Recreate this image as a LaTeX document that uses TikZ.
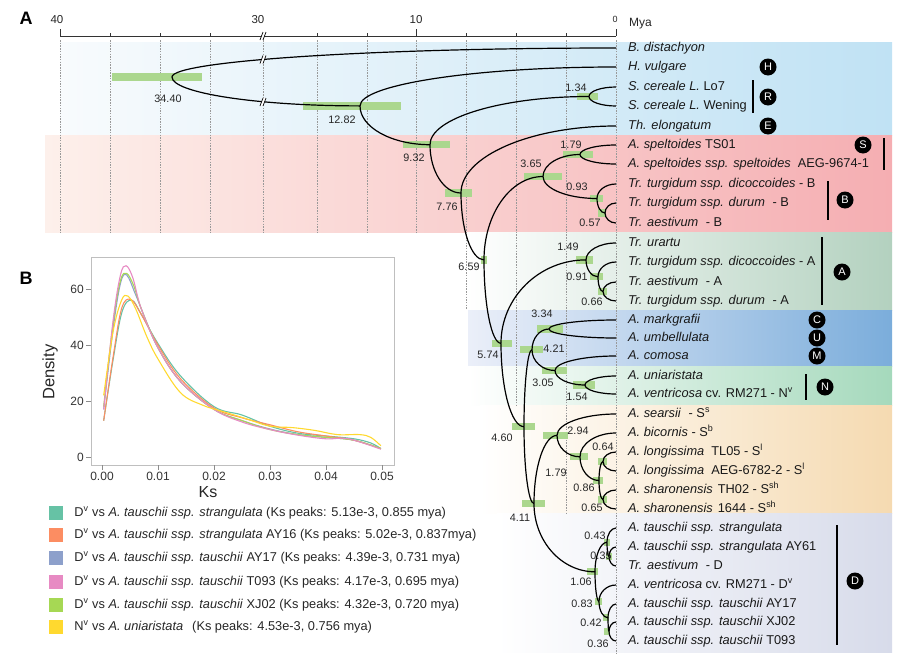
\documentclass[tikz,border=0pt]{standalone}
\usepackage{fontspec}
\setmainfont{Liberation Sans}
\usetikzlibrary{calc,positioning}

\definecolor{bandH}{HTML}{C0E2F4}
\definecolor{bandHl}{HTML}{F8FBFD}
\definecolor{bandS}{HTML}{F5AEB2}
\definecolor{bandSl}{HTML}{FDF0EB}
\definecolor{bandA}{HTML}{B3D1BF}
\definecolor{bandC}{HTML}{7BADDB}
\definecolor{bandCl}{HTML}{EBEFF9}
\definecolor{bandN}{HTML}{A5D9BC}
\definecolor{bandSx}{HTML}{F5DAB1}
\definecolor{bandD}{HTML}{D7DBEA}
\definecolor{hpdgreen}{HTML}{ABD78E}
\definecolor{ksTeal}{HTML}{66C2A5}
\definecolor{ksOrange}{HTML}{FC8D62}
\definecolor{ksBlue}{HTML}{8DA0CB}
\definecolor{ksPink}{HTML}{E78AC3}
\definecolor{ksGreen}{HTML}{A6D854}
\definecolor{ksYellow}{HTML}{FFD92F}

\tikzset{
	branch/.style={line width=1.2pt},
	hpd/.style={fill=hpdgreen},
	gridline/.style={gray!80, line width=.4pt, dash pattern=on 1.5pt off 1.2pt},
	axisline/.style={line width=.6pt, black!80},
	tick/.style={inner sep=1pt, font=\fontsize{11.5}{13}\selectfont, text=black!85},
	taxon/.style={anchor=west, xshift=11pt, inner sep=1pt, text height=1.5ex, text depth=.3ex, font=\fontsize{12.8}{15}\selectfont, text=black!90},
	age/.style={inner sep=.5pt, font=\fontsize{10.8}{12}\selectfont, text=black!85},
	clade/.style={circle, fill=black, text=white, minimum size=17pt, inner sep=0pt, font=\fontsize{11}{12}\selectfont},
	cladebar/.style={line width=1.6pt},
	panel/.style={font=\fontsize{18}{20}\selectfont\bfseries},
	plotframe/.style={draw=black!25, line width=.6pt},
	plotaxis/.style={black!45, line width=.5pt},
	plottick/.style={inner sep=2pt, font=\fontsize{12}{14}\selectfont, text=black!80},
	kscurve/.style={line width=1.1pt},
	swatch/.style={minimum size=14pt, inner sep=0pt},
	legtext/.style={anchor=west, inner sep=0pt, font=\fontsize{12.8}{15}\selectfont, text=black!85},
}

\begin{document}
\begin{tikzpicture}[x=1pt,y=-1pt]
	\useasboundingbox (0,0) rectangle (914,659);

	% BANDS
	\shade[left color=bandHl, right color=bandH] (60,42) rectangle (892,135);
	\shade[left color=bandSl, right color=bandS] (45,135) rectangle (892,232);
	\shade[left color=white, right color=bandA] (466,232) rectangle (892,310);
	\shade[left color=bandCl, right color=bandC] (468,310) rectangle (892,366);
	\shade[left color=white, right color=bandN] (468,366) rectangle (892,405);
	\shade[left color=white, right color=bandSx] (480,405) rectangle (892,513);
	\shade[left color=white, right color=bandD] (497,513) rectangle (892,652);

	% TIME AXIS
	\foreach \x/\e in {60/232,110/232,160/232,210/232,263/232,317/232,367/232,416/232,466/310,516/405,566/513,616/655}
		\draw[gridline] (\x,40) -- (\x,\e);
	\draw[axisline] (60,36) -- (616,36);
	\foreach \x in {60,416,616} \draw[axisline] (\x,36) -- (\x,29);
	\foreach \x in {110,160,210,317,367,466,516,566} \draw[axisline] (\x,36) -- (\x,32.5);
	\node[tick] (m40) at (57,20) {40};
	\node[tick] (m30) at (258,20) {30};
	\node[tick] (m10) at (416,20) {10};
	\node[tick, font=\fontsize{9}{10}\selectfont] (m0) at (615,19) {0};
	\node[tick, font=\fontsize{12}{14}\selectfont, anchor=west] (mya) at (628,24) {Mya};

	% TIPS
	\foreach \t/\y/\lab in {
		bdis/48/{\textit{B. distachyon}},
		hvul/67/{\textit{H. vulgare}},
		lo7/87/{\textit{S. cereale L.} Lo7},
		wen/106/{\textit{S. cereale L.} Wening},
		thel/126/{\textit{Th. elongatum}},
		ts01/145/{\textit{A. speltoides} TS01},
		aeg96/164/{\textit{A. speltoides ssp. speltoides}\hspace{7pt}AEG-9674-1},
		dicB/184/{\textit{Tr. turgidum ssp. dicoccoides} - B},
		durB/203/{\textit{Tr. turgidum ssp. durum}\hspace{4pt} - B},
		aesB/223/{\textit{Tr. aestivum}\hspace{4pt} - B},
		ura/243/{\textit{Tr. urartu}},
		dicA/262/{\textit{Tr. turgidum ssp. dicoccoides} - A},
		aesA/282/{\textit{Tr. aestivum}\hspace{4pt} - A},
		durA/301/{\textit{Tr. turgidum ssp. durum}\hspace{4pt} - A},
		mar/320/{\textit{A. markgrafii}},
		umb/338/{\textit{A. umbellulata}},
		com/356/{\textit{A. comosa}},
		uni/376/{\textit{A. uniaristata}},
		venN/394/{\textit{A. ventricosa} cv. RM271 - N\textsuperscript{v}},
		sea/414/{\textit{A. searsii}\hspace{4pt} - S\textsuperscript{s}},
		bic/433/{\textit{A. bicornis} - S\textsuperscript{b}},
		lonT/452/{\textit{A. longissima}\hspace{7pt}TL05 - S\textsuperscript{l}},
		lonA/471/{\textit{A. longissima}\hspace{7pt}AEG-6782-2 - S\textsuperscript{l}},
		shaT/490/{\textit{A. sharonensis}\hspace{5pt}TH02 - S\textsuperscript{sh}},
		sha16/509/{\textit{A. sharonensis}\hspace{5pt}1644 - S\textsuperscript{sh}},
		str/528/{\textit{A. tauschii ssp. strangulata}},
		str61/547/{\textit{A. tauschii ssp. strangulata} AY61},
		aesD/566/{\textit{Tr. aestivum}\hspace{4pt} - D},
		venD/585/{\textit{A. ventricosa} cv. RM271 - D\textsuperscript{v}},
		ay17/604/{\textit{A. tauschii ssp. tauschii} AY17},
		xj02/622/{\textit{A. tauschii ssp. tauschii} XJ02},
		t093/641/{\textit{A. tauschii ssp. tauschii} T093}} {
		\coordinate (\t) at (616,\y);
		\node[taxon] (l\t) at (\t) {\lab};
	}

	% INTERNAL NODES
	\coordinate (n3440) at (172,77);
	\coordinate (n1282) at (360,105.9);
	\coordinate (n932) at (430,144.7);
	\coordinate (n134) at (589,96.5);
	\coordinate (n776) at (461,193);
	\coordinate (n659) at (484,259.9);
	\coordinate (n365) at (543,176.5);
	\coordinate (n179a) at (580,154.5);
	\coordinate (n093) at (597,198.5);
	\coordinate (n057) at (605,213);
	\coordinate (n574) at (501,343.3);
	\coordinate (n149) at (586,259.9);
	\coordinate (n091) at (598,276.8);
	\coordinate (n066) at (603,291.5);
	\coordinate (n460) at (524,426.7);
	\coordinate (n421) at (532,349.8);
	\coordinate (n334) at (549,329);
	\coordinate (n305) at (555,370.5);
	\coordinate (n154) at (585,385);
	\coordinate (n411) at (534,503.6);
	\coordinate (n294) at (557,435.4);
	\coordinate (n179b) at (580,456.8);
	\coordinate (n086) at (599,480.5);
	\coordinate (n064) at (603,461.5);
	\coordinate (n065) at (603,499.5);
	\coordinate (n106) at (595,571.8);
	\coordinate (n043) at (607,542.3);
	\coordinate (n035) at (609,556.5);
	\coordinate (n083) at (599,601.4);
	\coordinate (n042) at (608,617.8);
	\coordinate (n036) at (609,631.5);

	% HPD BARS
	\foreach \n/\lx/\rx in {n3440/112/202,n1282/303/401,n932/403/450,n776/445/472,n659/481/487,
		n365/524/562,n179a/563/593,n093/590/603,n057/598/606,n134/577/598,n149/576/593,
		n091/590/603,n066/598/607,n574/492/512,n460/512/535,n421/520/543,n334/537/563,
		n305/542/567,n154/573/595,n411/522/545,n294/543/568,n179b/570/588,n086/593/603,
		n064/598/607,n065/598/607,n106/587/598,n043/604/610,n035/606/612,n083/595/602,
		n042/603/609,n036/604/610}
		\fill[hpd] ($(\lx,0 |- \n)+(0,-3.6)$) rectangle ($(\rx,0 |- \n)+(0,3.6)$);

	% BRANCHES
	\foreach \p/\c in {n3440/bdis,n3440/n1282,n1282/hvul,n1282/n932,n932/n134,n932/n776,
		n134/lo7,n134/wen,n776/thel,n776/n659,n659/n365,n659/n574,n365/n179a,n365/n093,
		n179a/ts01,n179a/aeg96,n093/dicB,n093/n057,n057/durB,n057/aesB,n574/n149,n574/n460,
		n149/ura,n149/n091,n091/dicA,n091/n066,n066/aesA,n066/durA,n460/n421,n460/n411,
		n421/n334,n421/n305,n334/mar,n334/umb,n305/com,n305/n154,n154/uni,n154/venN,
		n411/n294,n411/n106,n294/sea,n294/n179b,n179b/bic,n179b/n086,n086/n064,n086/n065,
		n064/lonT,n064/lonA,n065/shaT,n065/sha16,n106/n043,n106/n083,n043/str,n043/n035,
		n035/str61,n035/aesD,n083/venD,n083/n042,n042/ay17,n042/n036,n036/xj02,n036/t093}
		\draw[branch] (\p) .. controls ($(\p)!.55!(\p|-\c)$) and ($(\c)!.55!(\p|-\c)$) .. (\c);

	% AXIS BREAKS
	\coordinate (brk1) at (263,36);
	\coordinate (brk2) at (263,59.5);
	\coordinate (brk3) at (263,102);
	\foreach \c in {brk1,brk2,brk3} {
		\fill[white] ($(\c)+(-3,4)$) -- ($(\c)+(0,-4)$) -- ($(\c)+(3,-4)$) -- ($(\c)+(0,4)$) -- cycle;
		\draw[line width=.7pt] ($(\c)+(-3,4)$) -- ($(\c)+(0,-4)$) ($(\c)+(0,4)$) -- ($(\c)+(3,-4)$);
	}

	% AGES
	\foreach \n/\x/\y/\a in {n3440/168/99/34.40,n1282/342/120/12.82,n932/414/158/9.32,
		n776/447/207/7.76,n659/469/267/6.59,n365/531/164/3.65,n179a/571/145/1.79,
		n093/577/187/0.93,n057/590/223/0.57,n134/576/88/1.34,n149/568/247/1.49,
		n091/577/277/0.91,n066/592/302/0.66,n574/488/355/5.74,n460/502/438/4.60,
		n421/554/349/4.21,n334/542/314/3.34,n305/543/383/3.05,n154/577/397/1.54,
		n411/520/518/4.11,n294/578/431/2.94,n179b/556/473/1.79,n064/603/447/0.64,
		n086/584/488/0.86,n065/592/508/0.65,n043/595/536/0.43,n035/601/556/0.35,
		n106/581/582/1.06,n083/582/604/0.83,n042/591/623/0.42,n036/598/644/0.36}
		\node[age] (a\n) at (\x,\y) {\a};

	% CLADES
	\node[clade] (cH) at (768,67) {H};
	\node[clade] (cR) at (768,97) {R};
	\node[clade] (cE) at (768,126) {E};
	\node[clade] (cS) at (863,145) {S};
	\node[clade] (cB) at (845,200) {B};
	\node[clade] (cA) at (842,272) {A};
	\node[clade] (cC) at (817,320) {C};
	\node[clade] (cU) at (817,338) {U};
	\node[clade] (cM) at (817,356) {M};
	\node[clade] (cN) at (825,387) {N};
	\node[clade] (cD) at (855,581) {D};
	\draw[cladebar] (753,80) -- (753,113);
	\draw[cladebar] (884,138) -- (884,170);
	\draw[cladebar] (828,181) -- (828,220);
	\draw[cladebar] (822,237) -- (822,305);
	\draw[cladebar] (806,374) -- (806,400);
	\draw[cladebar] (837,525) -- (837,645);

	\node[panel] (pA) at (26,18) {A};
	\node[panel] (pB) at (26,278) {B};

	% KS DENSITY
	\draw[plotframe] (91,257) rectangle (394,465);
	\foreach \d in {0,20,40,60}
		\draw[plotaxis] (91,{457-2.8*\d}) -- (86,{457-2.8*\d}) node[left, plottick] (dy\d) {\d};
	\foreach \k/\t in {0/0.00,1/0.01,2/0.02,3/0.03,4/0.04,5/0.05}
		\draw[plotaxis] ({102+56*\k},465) -- ({102+56*\k},470) node[below, plottick] (dx\k) {\t};
	\node[rotate=90, font=\fontsize{16.5}{18}\selectfont, text=black!85] (dens) at (50,372) {Density};
	\node[font=\fontsize{16}{18}\selectfont, text=black!85] (ks) at (208,492) {Ks};
	\begin{scope}[shift={(102,457)}, x=5.6pt, y=2.8pt]
		\draw[kscurve, ksBlue] plot[smooth, tension=.6] coordinates {(0.3,17) (2,46) (3.3,62) (4.4,65) (6,58) (8,48) (10,39) (14,27) (20,17) (25,13) (30,10) (35,8) (40,7) (45,6) (49.8,3)};
		\draw[kscurve, ksTeal] plot[smooth, tension=.6] coordinates {(0.3,13) (2,35) (3.6,52) (5.3,56) (7,51) (10,40.5) (14,29) (20,18) (25,15) (30,11) (35,8.5) (40,7.5) (45,6.5) (48,5) (49.8,3)};
		\draw[kscurve, ksOrange] plot[smooth, tension=.6] coordinates {(0.3,13) (2,36) (3.5,53) (5.1,56.3) (7,51) (10,40) (14,28) (20,17.5) (25,14) (30,11.5) (35,9) (40,7.5) (45,6) (49.8,3)};
		\draw[kscurve, ksGreen] plot[smooth, tension=.6] coordinates {(0.3,18) (2,48) (3.3,63) (4.4,65.6) (5.7,61) (7,53) (10,39) (14,27) (20,17) (25,13) (30,9.8) (35,8) (40,7) (45,6) (49.8,3)};
		\draw[kscurve, ksPink] plot[smooth, tension=.6] coordinates {(0.3,17) (2,49) (3.3,65) (4.3,68.3) (5.5,64) (7,53) (10,39) (14,27) (20,17) (25,12.5) (30,9.8) (35,7.8) (40,6.5) (44,6.5) (49.8,2.8)};
		\draw[kscurve, ksYellow] plot[smooth, tension=.6] coordinates {(0.3,22) (2,45) (3.5,56) (4.6,57.5) (6,53) (8,43) (10,35) (14,23) (18,18.5) (22,16) (26,13.5) (30,11) (34,10.5) (38,9.5) (42,8) (46,8) (48,7) (49.8,4)};
	\end{scope}

	% LEGEND
	\node[swatch, fill=ksTeal] (k1) at (56,513) {};
	\node[swatch, fill=ksOrange] (k2) at (56,535) {};
	\node[swatch, fill=ksBlue] (k3) at (56,558) {};
	\node[swatch, fill=ksPink] (k4) at (56,582) {};
	\node[swatch, fill=ksGreen] (k5) at (56,605) {};
	\node[swatch, fill=ksYellow] (k6) at (56,627) {};
	\node[legtext, right=11pt of k1] (e1) {D\textsuperscript{v} vs \textit{A. tauschii ssp. strangulata} (Ks peaks: 5.13e-3, 0.855 mya)};
	\node[legtext, right=11pt of k2] (e2) {D\textsuperscript{v} vs \textit{A. tauschii ssp. strangulata} AY16 (Ks peaks: 5.02e-3, 0.837mya)};
	\node[legtext, right=11pt of k3] (e3) {D\textsuperscript{v} vs \textit{A. tauschii ssp. tauschii} AY17 (Ks peaks: 4.39e-3, 0.731 mya)};
	\node[legtext, right=11pt of k4] (e4) {D\textsuperscript{v} vs \textit{A. tauschii ssp. tauschii} T093 (Ks peaks: 4.17e-3, 0.695 mya)};
	\node[legtext, right=11pt of k5] (e5) {D\textsuperscript{v} vs \textit{A. tauschii ssp. tauschii} XJ02 (Ks peaks: 4.32e-3, 0.720 mya)};
	\node[legtext, right=11pt of k6] (e6) {N\textsuperscript{v} vs \textit{A. uniaristata}\hspace{9pt}(Ks peaks: 4.53e-3, 0.756 mya)};
\end{tikzpicture}
\end{document}
